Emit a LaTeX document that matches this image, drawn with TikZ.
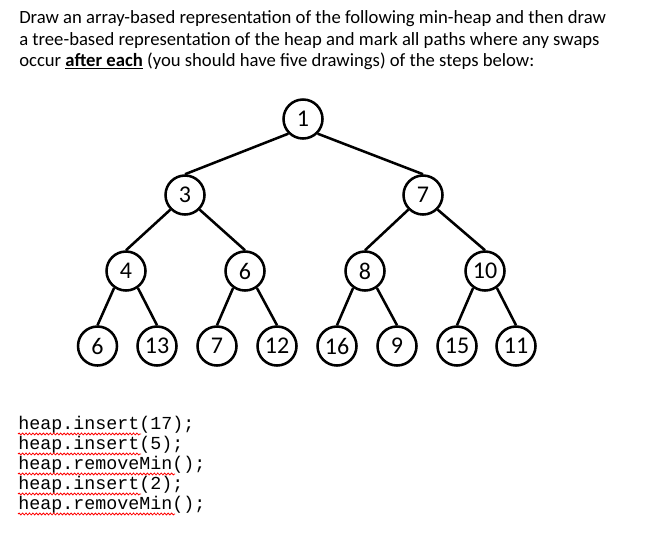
\documentclass[tikz,border=0pt]{standalone}
\usepackage{fontspec}
\setmainfont{Carlito}
\newfontfamily\codefont{Liberation Mono}
\usepackage{tikz}
\usetikzlibrary{positioning,decorations.pathmorphing}
\tikzset{
  heapnode/.style={circle, draw, line width=1.9pt, minimum size=29.25pt,
    inner sep=0pt, font=\fontsize{18}{20}\selectfont},
  edge/.style={line width=1.9pt},
  headline/.style={anchor=base west, inner sep=0pt,
    font=\fontsize{14}{16.3}\selectfont},
  codeline/.style={anchor=base west, inner sep=0pt,
    font=\codefont\fontsize{13.75}{15}\selectfont},
  squig/.style={red, line width=0.6pt,
    decorate, decoration={snake, segment length=2.6pt, amplitude=0.7pt}},
}

\begin{document}
\begin{tikzpicture}[x=0.75pt, y=-0.75pt]
  \useasboundingbox (0,0) rectangle (666,536);

  % task text
  \node[headline] (head1) at (19,23.3) {Draw an array-based representation of the following min-heap and then draw};
  \node[headline] (head2) at (19,45) {a tree-based representation of the heap and mark all paths where any swaps};
  \node[headline] (head3) at (19,66.7) {occur \underline{\textbf{after each}} (you should have five drawings) of the steps below:};

  % the heap
  \node[heapnode] (h1) at (303,119) {1};
  \node[heapnode] (h2) at (185,195) {3};
  \node[heapnode] (h3) at (423,195) {7};
  \node[heapnode] (h4) at (126,271) {4};
  \node[heapnode] (h5) at (245,271) {6};
  \node[heapnode] (h6) at (365,271) {8};
  \node[heapnode] (h7) at (485,271) {10};
  \node[heapnode] (h8) at (97.5,346) {6};
  \node[heapnode] (h9) at (157,346) {13};
  \node[heapnode] (h10) at (217,346) {7};
  \node[heapnode] (h11) at (277,346) {12};
  \node[heapnode] (h12) at (337,346) {16};
  \node[heapnode] (h13) at (397,346) {9};
  \node[heapnode] (h14) at (457,346) {15};
  \node[heapnode] (h15) at (516,346) {11};

  \draw[edge] (h1.225) -- (h2.north);
  \draw[edge] (h1.315) -- (h3.north);
  \draw[edge] (h2.225) -- (h4.north);
  \draw[edge] (h2.315) -- (h5.north);
  \draw[edge] (h3.225) -- (h6.north);
  \draw[edge] (h3.315) -- (h7.north);
  \draw[edge] (h4.235) -- (h8.north);
  \draw[edge] (h4.305) -- (h9.north);
  \draw[edge] (h5.235) -- (h10.north);
  \draw[edge] (h5.305) -- (h11.north);
  \draw[edge] (h6.235) -- (h12.north);
  \draw[edge] (h6.305) -- (h13.north);
  \draw[edge] (h7.235) -- (h14.north);
  \draw[edge] (h7.305) -- (h15.north);

  % the steps
  \node[codeline] (code1) at (18,429.3) {heap.insert(17);};
  \node[codeline] (code2) at (18,449.3) {heap.insert(5);};
  \node[codeline] (code3) at (18,469.3) {heap.removeMin();};
  \node[codeline] (code4) at (18,489.3) {heap.insert(2);};
  \node[codeline] (code5) at (18,509.3) {heap.removeMin();};

  \draw[squig] ([yshift=-3.5pt]code1.base west) -- ++(123,0);
  \draw[squig] ([yshift=-3.5pt]code2.base west) -- ++(123,0);
  \draw[squig] ([yshift=-3.5pt]code3.base west) -- ++(157,0);
  \draw[squig] ([yshift=-3.5pt]code4.base west) -- ++(123,0);
  \draw[squig] ([yshift=-3.5pt]code5.base west) -- ++(157,0);
\end{tikzpicture}
\end{document}
